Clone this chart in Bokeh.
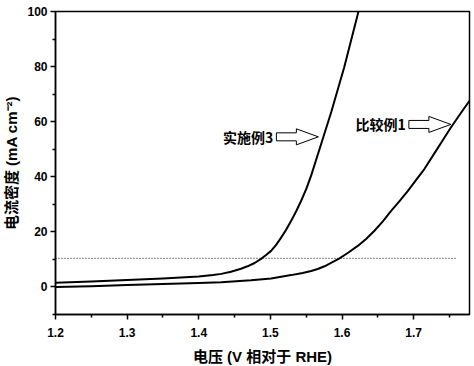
from bokeh.plotting import figure
from bokeh.models import Range1d, FixedTicker, ColumnDataSource
from bokeh.core.properties import value
from bokeh.embed import file_html
from bokeh.resources import INLINE

# ---- data ----
v_ex3 = [1.20, 1.25, 1.30, 1.35, 1.40, 1.42, 1.4315, 1.445, 1.459, 1.468, 1.478, 1.487,
         1.494, 1.501, 1.508, 1.515, 1.522, 1.529, 1.536, 1.543, 1.550, 1.557, 1.571,
         1.585, 1.603, 1.623]
j_ex3 = [1.5, 2.0, 2.5, 3.1, 3.8, 4.3, 4.75, 5.5, 6.6, 7.5, 8.7, 10.2,
         11.6, 13.1, 15.3, 17.9, 20.8, 24.0, 27.5, 31.3, 35.5, 40.5, 52.0,
         63.5, 79.7, 100.0]

v_cmp1 = [1.20, 1.25, 1.30, 1.35, 1.40, 1.4315, 1.473, 1.501, 1.529, 1.545, 1.557,
          1.566, 1.5756, 1.586, 1.5965, 1.609, 1.622, 1.634, 1.6453, 1.657, 1.6686,
          1.680, 1.692, 1.703, 1.715, 1.7314, 1.742, 1.752, 1.765, 1.778]
j_cmp1 = [0.0, 0.3, 0.7, 1.1, 1.4, 1.7, 2.4, 3.1, 4.3, 5.1, 5.8,
          6.5, 7.5, 8.9, 10.4, 12.5, 14.9, 17.5, 20.4, 23.8, 27.6,
          31.1, 34.9, 38.7, 42.8, 49.5, 53.8, 57.9, 62.8, 67.6]

ref_level = 10.4
ref_x = [1.2, 1.76]

x_ticks = [1.2, 1.3, 1.4, 1.5, 1.6, 1.7]
y_ticks = [0, 20, 40, 60, 80, 100]
x_minor = [1.25, 1.35, 1.45, 1.55, 1.65, 1.75]
y_minor = [-10, 10, 30, 50, 70, 90]

labels = ["实施例3", "比较例1"]
arrow_tip_x = [1.567, 1.752]
arrow_tip_y = [54.5, 59.0]

x_lo, x_hi = 1.2, 1.778
y_lo, y_hi = -10, 100

FW, FH = 414, 303
p = figure(frame_width=FW, frame_height=FH, output_backend="svg", toolbar_location=None,
           x_range=Range1d(x_lo, x_hi), y_range=Range1d(y_lo, y_hi),
           min_border_left=54, min_border_right=6, min_border_top=11, min_border_bottom=52)
p.xgrid.visible = False
p.ygrid.visible = False
p.outline_line_color = "black"
p.outline_line_width = 1.5
p.background_fill_color = "white"
p.border_fill_color = "white"

num_font = "Liberation Sans"
cjk_font = "Liberation Sans, Noto Sans CJK SC"

for ax in (p.xaxis[0], p.yaxis[0]):
    ax.axis_line_width = 1.5
    ax.major_tick_line_width = 1.5
    ax.minor_tick_line_width = 1.5
    ax.major_tick_in = 0
    ax.major_tick_out = 5
    ax.minor_tick_in = 0
    ax.minor_tick_out = 3
    ax.major_label_text_font = num_font
    ax.major_label_text_font_style = "bold"
    ax.major_label_text_font_size = "12px"
    ax.major_label_text_color = "black"
    ax.axis_label_text_font = cjk_font
    ax.axis_label_text_font_style = "bold"
    ax.axis_label_text_font_size = "15px"
    ax.axis_label_text_color = "black"

p.xaxis[0].ticker = FixedTicker(ticks=x_ticks, minor_ticks=x_minor)
p.yaxis[0].ticker = FixedTicker(ticks=y_ticks, minor_ticks=y_minor)
p.xaxis[0].axis_label = "电压 (V 相对于 RHE)"
p.yaxis[0].axis_label = "电流密度 (mA cm⁻²)"
p.xaxis[0].major_label_standoff = 8
p.xaxis[0].axis_label_standoff = 8
p.yaxis[0].major_label_standoff = 3
p.yaxis[0].axis_label_standoff = 4

# reference dotted line
p.line(ref_x, [ref_level, ref_level], line_color="black", line_width=1, line_dash="1 2")

# curves
p.line(v_ex3, j_ex3, line_color="black", line_width=2, line_join="round")
p.line(v_cmp1, j_cmp1, line_color="black", line_width=2, line_join="round")

# block arrows and their labels
dxp = (x_hi - x_lo) / FW
dyp = (y_hi - y_lo) / FH
shaft_len, head_len, shaft_h, head_h = 20, 22, 4, 8
xs, ys, tx, ty = [], [], [], []
for x0, y0 in zip(arrow_tip_x, arrow_tip_y):
    xb = x0 - head_len * dxp
    xt = x0 - (head_len + shaft_len) * dxp
    xs.append([x0, xb, xb, xt, xt, xb, xb])
    ys.append([y0, y0 + head_h * dyp, y0 + shaft_h * dyp, y0 + shaft_h * dyp,
               y0 - shaft_h * dyp, y0 - shaft_h * dyp, y0 - head_h * dyp])
    tx.append(xt - 3 * dxp)
    ty.append(y0)
p.patches(xs, ys, fill_color="white", line_color="black", line_width=1)
src = ColumnDataSource(dict(x=tx, y=ty, t=labels))
p.text(x="x", y="y", text="t", source=src, text_align="right", text_baseline="middle",
       text_font=value("Noto Sans CJK SC"), text_font_style="bold", text_font_size="14px",
       text_color="black")

open("out.html", "w").write(file_html(p, INLINE))
